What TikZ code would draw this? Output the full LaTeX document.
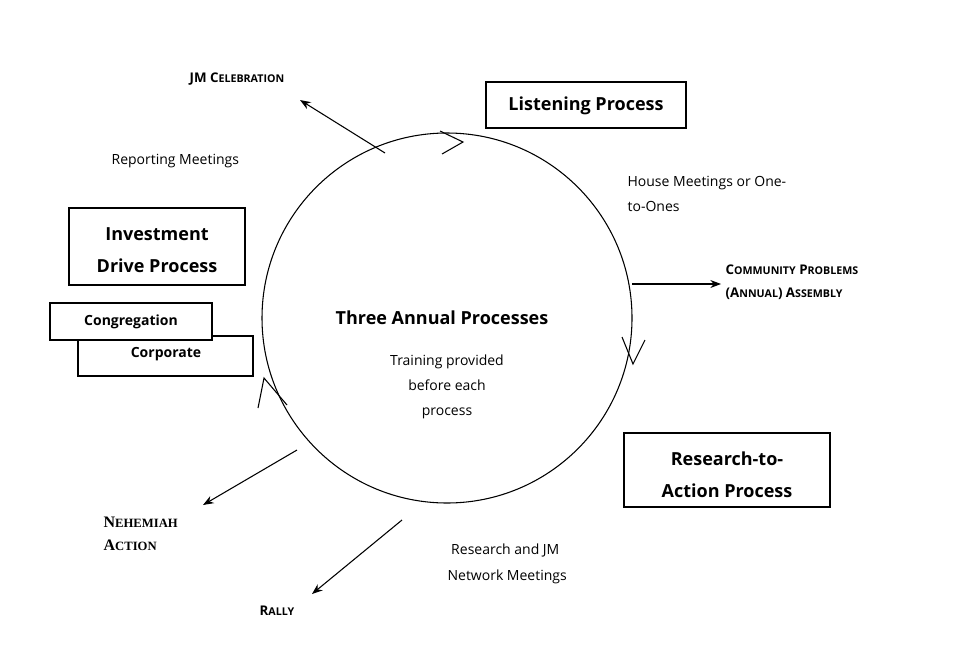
\documentclass[tikz,border=0pt]{standalone}
\usetikzlibrary{arrows.meta}
\usepackage{fontspec}
\setmainfont{Open Sans}
\newfontfamily\serifsc{Liberation Serif}
\begin{document}
\begin{tikzpicture}[x=0.75pt,y=-0.75pt,
 txt/.style={align=center,font=\fontsize{10.5}{19}\selectfont,inner sep=1pt},
 sc/.style={align=left,font=\fontsize{10}{17}\selectfont\bfseries,inner sep=1pt},
 arr/.style={draw,line width=0.8pt,-{Stealth[length=8pt,width=6pt]}},
 chev/.style={line width=0.8pt},
 thickbox/.style={line width=1.8pt},
 thinbox/.style={line width=0.8pt,fill=white}]
\useasboundingbox (0,0) rectangle (980,650);
\draw[line width=0.8pt] (447,318) circle[radius=185];
% chevrons
\draw[chev] (440,131) -- (463,142) -- (442,154);
\draw[chev] (622,337) -- (633,364) -- (645,340);
\draw[chev] (258,408) -- (264,378) -- (287,405);
% boxes
\draw[thickbox] (486,82) rectangle (686,128);
\node[font=\fontsize{13.5}{20}\selectfont\bfseries] (lp) at (586,106) {Listening Process};
\draw[thickbox] (69,208) rectangle (245,285);
\node[align=center,font=\fontsize{13.5}{24}\selectfont\bfseries] (ip) at (157,250) {Investment\\Drive Process};
\draw[thickbox] (624,433) rectangle (830,507);
\node[align=center,font=\fontsize{13.5}{24}\selectfont\bfseries] (rp) at (727,475) {Research-to-\\Action Process};
\draw[thinbox] (78,336) rectangle (253,376);
\node[font=\fontsize{10.5}{13}\selectfont\bfseries] (corp) at (166,354) {Corporate};
\draw[thinbox] (50,303) rectangle (212,340);
\node[font=\fontsize{10.5}{13}\selectfont\bfseries] (cong) at (131,322) {Congregation};
% center text
\node[font=\fontsize{13.5}{18}\selectfont\bfseries] (t) at (442,318) {Three Annual Processes};
\node[txt] (tr) at (447,387) {Training provided\\before each\\process};
\node[txt,anchor=west] (rm) at (110,161) {Reporting Meetings};
\node[txt,align=left,anchor=west] (hm) at (626,194) {House Meetings or One-\\to-Ones};
\node[txt,align=left,anchor=west] (rj) at (446,564) {\ Research and JM\\Network Meetings};
% small caps labels
\node[sc,anchor=west] (jm) at (188,79) {JM C{\fontsize{8}{9}\selectfont ELEBRATION}};
\node[sc,anchor=west] (cp) at (724,282) {C{\fontsize{8}{9}\selectfont OMMUNITY} P{\fontsize{8}{9}\selectfont ROBLEMS}\\(A{\fontsize{8}{9}\selectfont NNUAL}) A{\fontsize{8}{9}\selectfont SSEMBLY}};
\node[sc,anchor=west,font=\serifsc\fontsize{12}{17}\selectfont\bfseries] (na) at (102,534) {N{\fontsize{9.5}{9}\selectfont EHEMIAH}\\A{\fontsize{9.5}{9}\selectfont CTION}};
\node[sc,anchor=west] (ra) at (258,611) {R{\fontsize{8}{9}\selectfont ALLY}};
% connectors
\coordinate (a1) at (385,153); \coordinate (a1e) at (300,100);
\draw[arr] (a1) -- (a1e);
\coordinate (a2) at (632,284); \coordinate (a2e) at (721,284);
\draw[arr] (a2) -- (a2e);
\coordinate (a3) at (297,450); \coordinate (a3e) at (203,505);
\draw[arr] (a3) -- (a3e);
\coordinate (a4) at (402,520); \coordinate (a4e) at (312,594);
\draw[arr] (a4) -- (a4e);
\end{tikzpicture}
\end{document}
